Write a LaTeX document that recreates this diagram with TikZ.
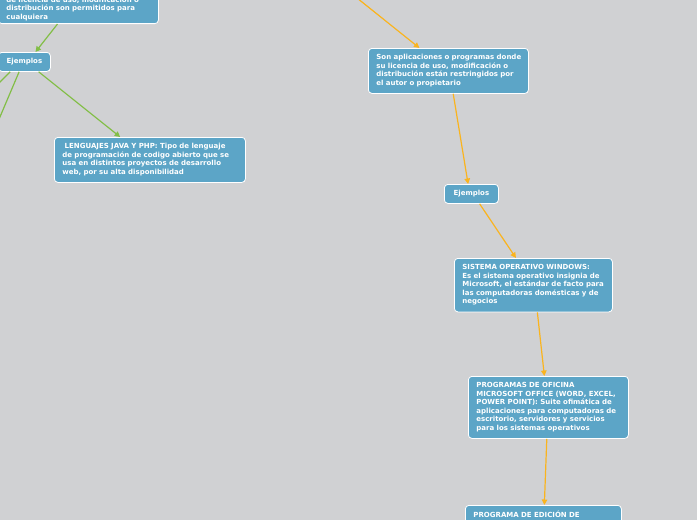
\documentclass[tikz,border=0pt]{standalone}
\usepackage{fontspec}
\setmainfont{DejaVu Sans}
\usetikzlibrary{arrows.meta,calc}
\definecolor{bg}{RGB}{208,209,211}
\definecolor{boxblue}{RGB}{92,165,199}
\definecolor{lgreen}{RGB}{130,190,70}
\definecolor{lorange}{RGB}{250,180,30}
\newcommand\cardlines[1]{\begin{tabular}{@{}l@{}}#1\end{tabular}}
\tikzset{
  card/.style={draw=white, line width=0.8pt, fill=boxblue, rounded corners=3.5pt,
    text=white, font=\fontsize{7}{8.5}\selectfont\bfseries, align=left,
    inner xsep=8pt, inner ysep=5.5pt, anchor=north west},
  tag/.style={card, align=center, inner xsep=0pt, inner ysep=0pt, minimum height=19pt},
  garrow/.style={draw=lgreen, line width=1.2pt, -{Triangle[length=5.5pt,width=5.5pt]}},
  gline/.style={draw=lgreen, line width=1.2pt},
  oarrow/.style={draw=lorange, line width=1.2pt, -{Triangle[length=5.5pt,width=5.5pt]}},
}
\begin{document}
\begin{tikzpicture}[x=1pt,y=-1pt]
\useasboundingbox (0,0) rectangle (697,520);
\fill[bg] (0,0) rectangle (697,520);
% left branch
\node[card, anchor=south west, text width=144pt, inner ysep=2pt] (tl) at (-2,24)
  {\cardlines{de licencia de uso, modificación o\\distribución son permitidos para\\cualquiera}};
\node[tag, minimum width=52pt] (e1) at (-2,52) {Ejemplos};
\node[card, text width=175pt, minimum height=44pt] (leng) at (54,137)
  {\cardlines{\ LENGUAJES JAVA Y PHP: Tipo de lenguaje\\de programación de codigo abierto que se\\usa en distintos proyectos de desarrollo\\web, por su alta disponibilidad}};
\coordinate (f1) at (-12,94);
\coordinate (f2) at (-6,131);
% right branch
\node[card, text width=144pt, minimum height=45pt] (s1) at (368,48)
  {\cardlines{Son aplicaciones o programas donde\\su licencia de uso, modificación o\\distribución están restringidos por\\el autor o propietario}};
\node[tag, minimum width=54pt] (e2) at (444,184) {Ejemplos};
\node[card, text width=142pt, minimum height=53pt] (sis) at (454,258)
  {\cardlines{SISTEMA OPERATIVO WINDOWS:\\Es el sistema operativo insignia de\\Microsoft, el estándar de facto para\\las computadoras domésticas y de\\negocios}};
\node[card, text width=144pt, minimum height=61pt] (prog) at (468,376)
  {\cardlines{PROGRAMAS DE OFICINA\\MICROSOFT OFFICE (WORD, EXCEL,\\POWER POINT): Suite ofimática de\\aplicaciones para computadoras de\\escritorio, servidores y servicios\\para los sistemas operativos}};
\node[card, text width=140pt] (ed) at (465,505)
  {\cardlines{PROGRAMA DE EDICIÓN DE\\\phantom{X}\\\phantom{X}}};
\coordinate (f3) at (347,-10);
% connectors left
\draw[garrow] ($(tl.south west)!0.37!(tl.south east)$) -- ($(e1.north west)!0.71!(e1.north east)$);
\draw[gline] ($(e1.south west)!0.23!(e1.south east)$) -- (f1);
\draw[gline] ($(e1.south west)!0.40!(e1.south east)$) -- (f2);
\draw[garrow] ($(e1.south west)!0.77!(e1.south east)$) -- ($(leng.north west)!0.345!(leng.north east)$);
% connectors right
\draw[oarrow] (f3) -- ($(s1.north west)!0.32!(s1.north east)$);
\draw[oarrow] ($(s1.south west)!0.53!(s1.south east)$) -- ($(e2.north west)!0.44!(e2.north east)$);
\draw[oarrow] ($(e2.south west)!0.65!(e2.south east)$) -- ($(sis.north west)!0.39!(sis.north east)$);
\draw[oarrow] ($(sis.south west)!0.525!(sis.south east)$) -- ($(prog.north west)!0.475!(prog.north east)$);
\draw[oarrow] ($(prog.south west)!0.49!(prog.south east)$) -- ($(ed.north west)!0.506!(ed.north east)$);
\end{tikzpicture}
\end{document}
